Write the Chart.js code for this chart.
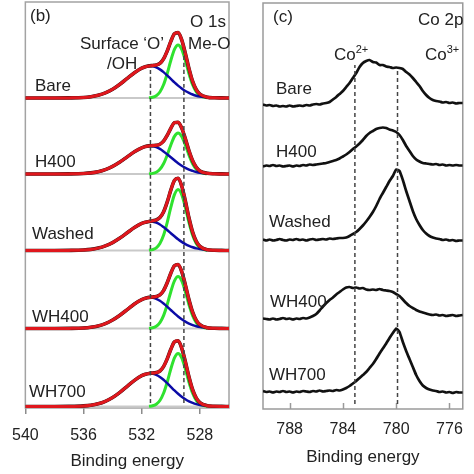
<!DOCTYPE html>
<html>
<head>
<meta charset="utf-8">
<script src="https://cdn.jsdelivr.net/npm/chart.js@4.4.1/dist/chart.umd.min.js"></script>
<style>
  html, body { margin: 0; padding: 0; background: #fff; }
  #fig { position: relative; width: 474px; height: 474px; overflow: hidden;
         font-family: "Liberation Sans", Arial, sans-serif; color: #222; }
  .panel { position: absolute; top: 0; width: 237px; height: 474px; }
  .lbl { position: absolute; font-size: 17px; line-height: 17px; white-space: nowrap; }
  .lbl sup { font-size: 11px; vertical-align: 0; position: relative; top: -7px; }
</style>
</head>
<body>
<div id="fig">
  <div class="panel" style="left:0"><canvas id="chartB" width="237" height="474"></canvas></div>
  <div class="panel" style="left:237px"><canvas id="chartC" width="237" height="474"></canvas></div>

  <!-- panel (b) labels -->
  <div class="lbl" style="left:30px;top:7px">(b)</div>
  <div class="lbl" style="left:190px;top:13px">O 1s</div>
  <div class="lbl" style="left:80px;top:35px">Surface ‘O’</div>
  <div class="lbl" style="left:107px;top:55px">/OH</div>
  <div class="lbl" style="left:188px;top:35px">Me-O</div>
  <div class="lbl" style="left:35px;top:77px">Bare</div>
  <div class="lbl" style="left:35px;top:153px">H400</div>
  <div class="lbl" style="left:32px;top:225px">Washed</div>
  <div class="lbl" style="left:32px;top:308px">WH400</div>
  <div class="lbl" style="left:29px;top:383px">WH700</div>

  <!-- panel (c) labels -->
  <div class="lbl" style="left:273px;top:8px">(c)</div>
  <div class="lbl" style="left:418px;top:11px">Co 2p</div>
  <div class="lbl" style="left:334px;top:46px">Co<sup>2+</sup></div>
  <div class="lbl" style="left:425px;top:46px">Co<sup>3+</sup></div>
  <div class="lbl" style="left:276px;top:80px">Bare</div>
  <div class="lbl" style="left:276px;top:143px">H400</div>
  <div class="lbl" style="left:269px;top:213px">Washed</div>
  <div class="lbl" style="left:270px;top:293px">WH400</div>
  <div class="lbl" style="left:269px;top:366px">WH700</div>
</div>

<script>
// ---------- O 1s data (panel b) ----------
const samples = ["Bare", "H400", "Washed", "WH400", "WH700"];

// binding energy grid (eV) for all O 1s traces
const o1sEnergy = [540, 539, 538, 537, 536, 535.5, 535, 534.5, 534, 533.5, 533, 532.5, 532,
  531.75, 531.5, 531.25, 531, 530.75, 530.5, 530.25, 530, 529.75, 529.5, 529.25, 529,
  528.75, 528.5, 528.25, 528, 527.5, 527, 526.5, 526];

// fitted envelope (red, also the measured black trace under it)
const envBare   = [0, 0, 0, 0.1, 0.5, 1.2, 2.7, 5.1, 8.7, 13.7, 19.6, 25.3, 29.9, 31.3, 32.1, 32.5, 33.0, 34.6, 39.1, 46.9, 56.6, 64.2, 65.4, 58.1, 44.5, 29.4, 16.7, 8.3, 3.8, 0.8, 0.2, 0.1, 0];
const envH400   = [0, 0, 0, 0.1, 0.5, 1.1, 2.3, 4.4, 7.6, 12.0, 17.1, 22.2, 26.1, 27.4, 28.1, 28.4, 28.7, 29.8, 32.8, 38.6, 45.7, 51.3, 51.8, 45.9, 35.2, 23.2, 13.3, 6.7, 3.1, 0.7, 0.2, 0.1, 0];
const envWashed = [0, 0, 0, 0.1, 0.5, 1.1, 2.4, 4.6, 7.9, 12.4, 17.7, 23.0, 27.1, 28.3, 29.1, 29.7, 30.5, 33.0, 38.6, 48.4, 60.4, 70.1, 72.2, 64.5, 49.5, 32.5, 18.4, 9.1, 4.1, 0.7, 0.2, 0.1, 0];
const envWH400  = [0, 0, 0, 0.1, 0.5, 1.2, 2.6, 4.9, 8.5, 13.3, 18.9, 24.6, 28.9, 30.3, 31.1, 31.5, 32.0, 33.6, 37.9, 45.7, 55.3, 62.8, 64.0, 56.9, 43.6, 28.7, 16.3, 8.2, 3.8, 0.8, 0.2, 0.1, 0];
const envWH700  = [0, 0, 0, 0.1, 0.6, 1.3, 2.7, 5.2, 9.0, 14.1, 20.2, 26.1, 30.8, 32.2, 33.1, 33.5, 33.9, 35.5, 39.9, 47.6, 57.2, 64.7, 65.8, 58.4, 44.8, 29.5, 16.8, 8.4, 3.9, 0.8, 0.2, 0.1, 0];

// surface O / OH component (blue)
const ohBare   = [null, null, null, null, 0.5, 1.2, 2.7, 5.1, 8.7, 13.7, 19.6, 25.3, 29.9, 31.3, 31.9, 31.8, 30.7, 28.6, 25.9, 22.6, 19.1, 15.6, 12.4, 9.5, 7.0, 5.1, 3.5, 2.3, 1.5, 0.6, null, null, null];
const ohH400   = [null, null, null, null, 0.5, 1.1, 2.3, 4.4, 7.6, 12.0, 17.1, 22.2, 26.1, 27.4, 27.9, 27.8, 26.9, 25.1, 22.6, 19.8, 16.7, 13.7, 10.8, 8.3, 6.2, 4.4, 3.1, 2.0, 1.3, 0.5, null, null, null];
const ohWashed = [null, null, null, null, 0.5, 1.1, 2.4, 4.6, 7.9, 12.4, 17.7, 23.0, 27.1, 28.3, 28.9, 28.8, 27.8, 26.0, 23.4, 20.5, 17.3, 14.2, 11.2, 8.6, 6.4, 4.6, 3.2, 2.1, 1.4, 0.5, null, null, null];
const ohWH400  = [null, null, null, null, 0.5, 1.2, 2.6, 4.9, 8.5, 13.3, 18.9, 24.6, 28.9, 30.3, 30.9, 30.8, 29.7, 27.7, 25.0, 21.9, 18.5, 15.1, 12.0, 9.2, 6.8, 4.9, 3.4, 2.3, 1.5, 0.6, null, null, null];
const ohWH700  = [null, null, null, null, 0.6, 1.3, 2.7, 5.2, 9.0, 14.1, 20.2, 26.1, 30.8, 32.2, 32.9, 32.8, 31.6, 29.5, 26.7, 23.3, 19.7, 16.1, 12.8, 9.8, 7.3, 5.2, 3.6, 2.4, 1.6, 0.6, null, null, null];

// lattice Me-O component (green)
const meoBare   = [null, null, null, null, null, null, null, null, null, null, null, null, null, null, 0.2, 0.7, 2.3, 6.0, 13.2, 24.3, 37.5, 48.6, 53, 48.6, 37.5, 24.3, 13.2, 6.0, 2.3, 0.2, null, null, null];
const meoH400   = [null, null, null, null, null, null, null, null, null, null, null, null, null, null, 0.2, 0.6, 1.8, 4.7, 10.2, 18.8, 29.0, 37.6, 41, 37.6, 29.0, 18.8, 10.2, 4.7, 1.8, 0.2, null, null, null];
const meoWashed = [null, null, null, null, null, null, null, null, null, null, null, null, null, null, 0.2, 0.9, 2.7, 7.0, 15.2, 27.9, 43.1, 55.9, 61, 55.9, 43.1, 27.9, 15.2, 7.0, 2.7, 0.2, null, null, null];
const meoWH400  = [null, null, null, null, null, null, null, null, null, null, null, null, null, null, 0.2, 0.7, 2.3, 5.9, 12.9, 23.8, 36.8, 47.7, 52, 47.7, 36.8, 23.8, 12.9, 5.9, 2.3, 0.2, null, null, null];
const meoWH700  = [null, null, null, null, null, null, null, null, null, null, null, null, null, null, 0.2, 0.7, 2.3, 6.0, 13.2, 24.3, 37.5, 48.6, 53, 48.6, 37.5, 24.3, 13.2, 6.0, 2.3, 0.2, null, null, null];

const o1sTicks = [540, 536, 532, 528];
const o1sRefs = [531.4, 529.1];

// ---------- Co 2p data (panel c) ----------
const coEnergy = [790, 789.75, 789.5, 789.25, 789, 788.75, 788.5, 788.25, 788, 787.75, 787.5, 787.25,
  787, 786.75, 786.5, 786.25, 786, 785.75, 785.5, 785.25, 785, 784.75, 784.5, 784.25,
  784, 783.75, 783.5, 783.25, 783, 782.75, 782.5, 782.25, 782, 781.75, 781.5, 781.25,
  781, 780.75, 780.5, 780.25, 780, 779.75, 779.5, 779.25, 779, 778.75, 778.5, 778.25,
  778, 777.75, 777.5, 777.25, 777, 776.75, 776.5, 776.25, 776, 775.75, 775.5, 775.25, 775];

const coBare   = [0.5, -0.5, 0, -1, -0.5, -1.5, -1, -1.5, -0.5, -1.5, -1, -0.5, -1, 0, -0.5, 0.5, 1, 0.5, 1.5, 2, 3, 5.5, 8, 11, 14, 18, 22, 27, 32, 38, 42, 44, 45, 43, 42.5, 40, 40, 38.5, 38, 37, 37.5, 37, 36, 33, 30.5, 27, 23, 19, 14, 10, 7, 5, 4, 3.5, 2.5, 3, 2, 2.5, 1.5, 2, 2];
const coH400   = [-0.5, 0.5, 0, 1, 0, 0.5, -0.5, 0, 0.5, -0.5, 0.5, 0, 1, 0.5, 1.5, 1, 1.5, 2, 2.5, 3, 4, 5, 6, 7.5, 9.5, 11.5, 14, 17, 19.5, 22.5, 26, 30, 33, 35, 37, 38, 38.5, 38, 36.5, 35.5, 34, 31, 26, 20, 15, 10, 6.5, 4.5, 3, 2.5, 2, 1.5, 2, 1, 1.5, 0.5, 1, 0.5, 1, 0.5, 0.5];
const coWashed = [0.5, -0.5, 0.5, -0.5, 0, 1, 0, -0.5, 0.5, 0, 1, 0, 0.5, -0.5, 0.5, 1, 0, 0.5, 1, 0.5, 1.5, 1, 1.5, 2, 2, 2.5, 4, 6, 8, 11, 14.5, 18.5, 23, 28, 34, 41, 47, 53, 59, 64, 70.5, 69, 60, 49, 39, 29, 21, 15, 10, 6.5, 4, 2.5, 1.5, 1, 0, 0.5, -0.5, 0, -1, -0.5, -0.5];
const coWH400  = [0.5, 0, -0.5, 0.5, -0.5, 0, 1, 0, 0.5, -0.5, 0.5, 0, 1, 0.5, 1.5, 3, 5, 8.5, 12.5, 16, 19, 21.5, 24.5, 27, 29.5, 31.5, 32, 31, 31.5, 30.5, 31, 29.5, 29, 29.5, 29, 30, 29, 28.5, 28, 27, 25, 23, 19.5, 16, 13, 11, 9, 7.5, 6.5, 5.5, 4.5, 4, 4.5, 3.5, 4, 3, 3.5, 4, 3, 3.5, 4];
const coWH700  = [0, -1, -0.5, -1.5, -0.5, -1, 0, -1, -0.5, -1.5, -0.5, -1, 0, -0.5, -1, 0, -0.5, 0.5, -0.5, 0, 0.5, 0, 1, 0.5, 1.5, 3, 5, 7.5, 10, 13, 16, 19, 23, 27, 32, 37.5, 42.5, 47.5, 53, 58, 62.5, 59, 49, 40, 32, 24, 16, 10, 5.5, 3, 1.5, 0.5, 0, -1, -0.5, -1.5, -1, -2, -1, -1.5, -1.5];

const coTicks = [788, 784, 780, 776];
const coRefs = [783.1, 779.9];

// ---------- building the charts ----------
const FONT = "'Liberation Sans', Arial, sans-serif";
const envSets = [envBare, envH400, envWashed, envWH400, envWH700];
const ohSets = [ohBare, ohH400, ohWashed, ohWH400, ohWH700];
const meoSets = [meoBare, meoH400, meoWashed, meoWH400, meoWH700];
const coSets = [coBare, coH400, coWashed, coWH400, coWH700];

// vertical stacking of the traces (axis units = pixels)
const bShift = [308.5, 232.5, 156, 78, 0];
const cShift = [304, 243, 169, 90, 18];

function pts(xs, ys, off) {
  return ys.map((v, i) => ({ x: xs[i], y: v === null ? null : v + off }));
}

// frame round the plot area, optional inward ticks
const framePlugin = {
  id: "frame",
  beforeDatasetsDraw(chart, args, opts) {
    const { ctx, chartArea: a } = chart;
    ctx.save();
    ctx.strokeStyle = opts.color;
    ctx.lineWidth = opts.width;
    ctx.strokeRect(a.left, a.top, a.right - a.left, a.bottom - a.top);
    if (opts.inTicks) {
      const sx = chart.scales.x;
      opts.inTicks.forEach((v) => {
        const px = Math.round(sx.getPixelForValue(v)) + 0.5;
        ctx.beginPath();
        ctx.moveTo(px, a.bottom);
        ctx.lineTo(px, a.bottom - 6);
        ctx.stroke();
      });
    }
    ctx.restore();
  },
};

function xAxis(min, max, tickVals, drawTicks, tickPad, titlePad, boxH) {
  return {
    type: "linear",
    reverse: true,
    min: min,
    max: max,
    afterBuildTicks: (s) => { s.ticks = tickVals.map((v) => ({ value: v })); },
    afterFit: (s) => { s.height = boxH; },
    border: { display: false },
    grid: { drawOnChartArea: false, drawTicks: drawTicks, tickLength: 6, color: "#8c8c8c", lineWidth: 1.5 },
    ticks: { autoSkip: false, maxRotation: 0, padding: tickPad, color: "#222",
             font: { family: FONT, size: 16 } },
    title: { display: true, text: "Binding energy", color: "#222",
             font: { family: FONT, size: 17 }, padding: { top: 0, bottom: titlePad } },
  };
}

// panel (b): O 1s
const dsB = [];
envSets.forEach((env, k) => {
  const off = bShift[k];
  dsB.push({ label: samples[k] + " fit", data: pts(o1sEnergy, env, off), borderColor: "#e0171d", borderWidth: 3, order: 1 });
  dsB.push({ label: samples[k] + " data", data: pts(o1sEnergy, env, off), borderColor: "#3a1212", borderWidth: 3.6, order: 2 });
  dsB.push({ label: samples[k] + " O/OH", data: pts(o1sEnergy, ohSets[k], off), borderColor: "#0b0ba6", borderWidth: 2.5, order: 3 });
  dsB.push({ label: samples[k] + " Me-O", data: pts(o1sEnergy, meoSets[k], off), borderColor: "#2fe22f", borderWidth: 3, order: 4 });
  dsB.push({ label: samples[k] + " base", data: [{ x: 540, y: off }, { x: 526, y: off }], borderColor: "#c9c9c9", borderWidth: 2, order: 5 });
});
const bRefTop = [340, 356];
o1sRefs.forEach((e, k) => {
  dsB.push({ label: "ref", data: [{ x: e, y: 3.5 }, { x: e, y: bRefTop[k] }], borderColor: "#444", borderWidth: 1.5, borderDash: [4, 3], order: 0 });
});

new Chart(document.getElementById("chartB"), {
  type: "line",
  data: { datasets: dsB },
  plugins: [framePlugin],
  options: {
    responsive: false,
    animation: false,
    spanGaps: false,
    elements: { point: { radius: 0 }, line: { tension: 0.4, cubicInterpolationMode: "monotone", fill: false } },
    layout: { padding: { left: 22, right: 8, top: 2, bottom: 0 } },
    plugins: { legend: { display: false }, tooltip: { enabled: false }, frame: { color: "#a3a3a3", width: 1.5 } },
    scales: {
      x: xAxis(526, 540, o1sTicks, true, 12, 2, 66),
      y: { display: false, min: -1.5, max: 404.5 },
    },
  },
});

// panel (c): Co 2p
const dsC = [];
coSets.forEach((vals, k) => {
  dsC.push({ label: samples[k], data: pts(coEnergy, vals, cShift[k]), borderColor: "#111", borderWidth: 2.7, tension: 0.15, order: 1 });
});
const cRefTop = [344, 339];
coRefs.forEach((e, k) => {
  dsC.push({ label: "ref", data: [{ x: e, y: 5 }, { x: e, y: cRefTop[k] }], borderColor: "#444", borderWidth: 1.5, borderDash: [4, 3], order: 0 });
});

new Chart(document.getElementById("chartC"), {
  type: "line",
  data: { datasets: dsC },
  plugins: [framePlugin],
  options: {
    responsive: false,
    animation: false,
    elements: { point: { radius: 0 }, line: { fill: false } },
    layout: { padding: { left: 26, right: 3, top: 3, bottom: 0 } },
    plugins: { legend: { display: false }, tooltip: { enabled: false },
               frame: { color: "#9a9a9a", width: 1.5, inTicks: coTicks } },
    scales: {
      x: xAxis(775, 790, coTicks, false, 11, 6, 65),
      y: { display: false, min: 0, max: 406 },
    },
  },
});
</script>
</body>
</html>
